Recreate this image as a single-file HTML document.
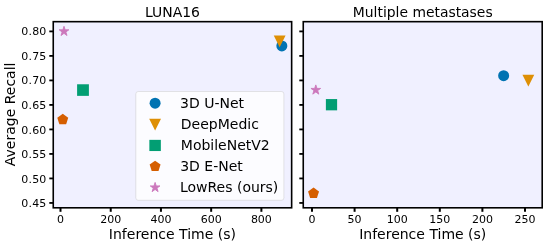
<!DOCTYPE html>
<html><head><meta charset="utf-8"><title>Average Recall vs Inference Time</title>
<style>html,body{margin:0;padding:0;background:#fff}svg{display:block}</style></head>
<body>
<svg width="550" height="245" viewBox="0 0 550 245" font-family="'DejaVu Sans', 'Liberation Sans', sans-serif" fill="#000">
<rect width="550" height="245" fill="#fff"/>
<rect x="53.25" y="21.67" width="238.39999999999998" height="186.13" fill="#f0f0ff"/>
<rect x="303.25" y="21.67" width="238.95000000000005" height="186.13" fill="#f0f0ff"/>
<line x1="49.30" x2="53.25" y1="202.94" y2="202.94" stroke="#000" stroke-width="1.8"/>
<text x="46.35" y="207" font-size="11.0" text-anchor="end" textLength="25.0" lengthAdjust="spacing">0.45</text>
<line x1="49.30" x2="53.25" y1="178.43" y2="178.43" stroke="#000" stroke-width="1.8"/>
<text x="46.35" y="183" font-size="11.0" text-anchor="end" textLength="25.0" lengthAdjust="spacing">0.50</text>
<line x1="49.30" x2="53.25" y1="153.93" y2="153.93" stroke="#000" stroke-width="1.8"/>
<text x="46.35" y="158" font-size="11.0" text-anchor="end" textLength="25.0" lengthAdjust="spacing">0.55</text>
<line x1="49.30" x2="53.25" y1="129.42" y2="129.42" stroke="#000" stroke-width="1.8"/>
<text x="46.35" y="134" font-size="11.0" text-anchor="end" textLength="25.0" lengthAdjust="spacing">0.60</text>
<line x1="49.30" x2="53.25" y1="104.92" y2="104.92" stroke="#000" stroke-width="1.8"/>
<text x="46.35" y="109" font-size="11.0" text-anchor="end" textLength="25.0" lengthAdjust="spacing">0.65</text>
<line x1="49.30" x2="53.25" y1="80.41" y2="80.41" stroke="#000" stroke-width="1.8"/>
<text x="46.35" y="84" font-size="11.0" text-anchor="end" textLength="25.0" lengthAdjust="spacing">0.70</text>
<line x1="49.30" x2="53.25" y1="55.91" y2="55.91" stroke="#000" stroke-width="1.8"/>
<text x="46.35" y="60" font-size="11.0" text-anchor="end" textLength="25.0" lengthAdjust="spacing">0.75</text>
<line x1="49.30" x2="53.25" y1="31.40" y2="31.40" stroke="#000" stroke-width="1.8"/>
<text x="46.35" y="35" font-size="11.0" text-anchor="end" textLength="25.0" lengthAdjust="spacing">0.80</text>
<line x1="299.30" x2="303.25" y1="202.94" y2="202.94" stroke="#000" stroke-width="1.8"/>
<line x1="299.30" x2="303.25" y1="178.43" y2="178.43" stroke="#000" stroke-width="1.8"/>
<line x1="299.30" x2="303.25" y1="153.93" y2="153.93" stroke="#000" stroke-width="1.8"/>
<line x1="299.30" x2="303.25" y1="129.42" y2="129.42" stroke="#000" stroke-width="1.8"/>
<line x1="299.30" x2="303.25" y1="104.92" y2="104.92" stroke="#000" stroke-width="1.8"/>
<line x1="299.30" x2="303.25" y1="80.41" y2="80.41" stroke="#000" stroke-width="1.8"/>
<line x1="299.30" x2="303.25" y1="55.91" y2="55.91" stroke="#000" stroke-width="1.8"/>
<line x1="299.30" x2="303.25" y1="31.40" y2="31.40" stroke="#000" stroke-width="1.8"/>
<line x1="60.50" x2="60.50" y1="207.80" y2="211.80" stroke="#000" stroke-width="2.0"/>
<text x="60.50" y="223.00" font-size="11.0" text-anchor="middle">0</text>
<line x1="110.72" x2="110.72" y1="207.80" y2="211.80" stroke="#000" stroke-width="2.0"/>
<text x="110.72" y="223.00" font-size="11.0" text-anchor="middle">200</text>
<line x1="160.94" x2="160.94" y1="207.80" y2="211.80" stroke="#000" stroke-width="2.0"/>
<text x="160.94" y="223.00" font-size="11.0" text-anchor="middle">400</text>
<line x1="211.16" x2="211.16" y1="207.80" y2="211.80" stroke="#000" stroke-width="2.0"/>
<text x="211.16" y="223.00" font-size="11.0" text-anchor="middle">600</text>
<line x1="261.38" x2="261.38" y1="207.80" y2="211.80" stroke="#000" stroke-width="2.0"/>
<text x="261.38" y="223.00" font-size="11.0" text-anchor="middle">800</text>
<line x1="312.00" x2="312.00" y1="207.80" y2="211.80" stroke="#000" stroke-width="2.0"/>
<text x="312.00" y="223.00" font-size="11.0" text-anchor="middle">0</text>
<line x1="354.60" x2="354.60" y1="207.80" y2="211.80" stroke="#000" stroke-width="2.0"/>
<text x="354.60" y="223.00" font-size="11.0" text-anchor="middle">50</text>
<line x1="397.20" x2="397.20" y1="207.80" y2="211.80" stroke="#000" stroke-width="2.0"/>
<text x="397.20" y="223.00" font-size="11.0" text-anchor="middle">100</text>
<line x1="439.80" x2="439.80" y1="207.80" y2="211.80" stroke="#000" stroke-width="2.0"/>
<text x="439.80" y="223.00" font-size="11.0" text-anchor="middle">150</text>
<line x1="482.40" x2="482.40" y1="207.80" y2="211.80" stroke="#000" stroke-width="2.0"/>
<text x="482.40" y="223.00" font-size="11.0" text-anchor="middle">200</text>
<line x1="525.00" x2="525.00" y1="207.80" y2="211.80" stroke="#000" stroke-width="2.0"/>
<text x="525.00" y="223.00" font-size="11.0" text-anchor="middle">250</text>
<circle cx="281.85" cy="45.96" r="5.50" fill="#0173b2"/>
<polygon points="279.65,47.25 273.75,35.55 285.55,35.55" fill="#de8f05"/>
<polygon points="77.10,84.27 88.90,84.27 88.90,95.87 77.10,95.87" fill="#029e73"/>
<polygon points="62.76,113.74 68.23,117.71 66.14,124.14 59.38,124.14 57.29,117.71" fill="#d55e00"/>
<polygon points="64.00,26.30 65.15,29.82 68.85,29.82 65.85,32.00 67.00,35.53 64.00,33.35 61.00,35.53 62.15,32.00 59.15,29.82 62.85,29.82" fill="#cc78bc" stroke="#cc78bc" stroke-width="0.9" stroke-linejoin="bevel"/>
<circle cx="503.65" cy="75.70" r="5.50" fill="#0173b2"/>
<polygon points="528.35,86.40 522.45,74.70 534.25,74.70" fill="#de8f05"/>
<polygon points="325.88,99.05 337.12,99.05 337.12,110.35 325.88,110.35" fill="#029e73"/>
<polygon points="313.55,187.55 319.02,191.52 316.93,197.95 310.17,197.95 308.08,191.52" fill="#d55e00"/>
<polygon points="315.80,84.90 316.95,88.42 320.65,88.42 317.65,90.60 318.80,94.13 315.80,91.95 312.80,94.13 313.95,90.60 310.95,88.42 314.65,88.42" fill="#cc78bc" stroke="#cc78bc" stroke-width="0.9" stroke-linejoin="bevel"/>
<rect x="135.8" y="91.5" width="148.09999999999997" height="108.80000000000001" rx="2.5" ry="2.5" fill="#ffffff" fill-opacity="0.8" stroke="#cccccc" stroke-opacity="0.5" stroke-width="1"/>
<circle cx="155.10" cy="103.15" r="5.50" fill="#0173b2"/>
<text x="180.1" y="108.00" font-size="14.0">3D U-Net</text>
<polygon points="155.10,130.40 149.20,118.70 161.00,118.70" fill="#de8f05"/>
<text x="180.8" y="129.00" font-size="14.0">DeepMedic</text>
<polygon points="149.35,139.85 160.85,139.85 160.85,151.05 149.35,151.05" fill="#029e73"/>
<text x="180.8" y="150.00" font-size="14.0">MobileNetV2</text>
<polygon points="155.10,160.65 160.57,164.62 158.48,171.05 151.72,171.05 149.63,164.62" fill="#d55e00"/>
<text x="180.2" y="171.00" font-size="14.0">3D E-Net</text>
<polygon points="155.10,182.40 156.25,185.92 159.95,185.92 156.95,188.10 158.10,191.63 155.10,189.45 152.10,191.63 153.25,188.10 150.25,185.92 153.95,185.92" fill="#cc78bc" stroke="#cc78bc" stroke-width="0.9" stroke-linejoin="bevel"/>
<text x="179.9" y="192.00" font-size="14.0">LowRes (ours)</text>
<rect x="53.25" y="21.67" width="238.39999999999998" height="186.13" fill="none" stroke="#000" stroke-width="1.6"/>
<rect x="303.25" y="21.67" width="238.95000000000005" height="186.13" fill="none" stroke="#000" stroke-width="1.6"/>
<text x="172.45" y="17" font-size="13.95" text-anchor="middle">LUNA16</text>
<text x="422.73" y="17" font-size="13.9" text-anchor="middle">Multiple metastases</text>
<text x="172.45" y="239" font-size="14.0" text-anchor="middle">Inference Time (s)</text>
<text x="422.73" y="239" font-size="14.0" text-anchor="middle">Inference Time (s)</text>
<text transform="translate(14.5,114.39) rotate(-90)" font-size="14.0" text-anchor="middle">Average Recall</text>
</svg>
</body></html>
